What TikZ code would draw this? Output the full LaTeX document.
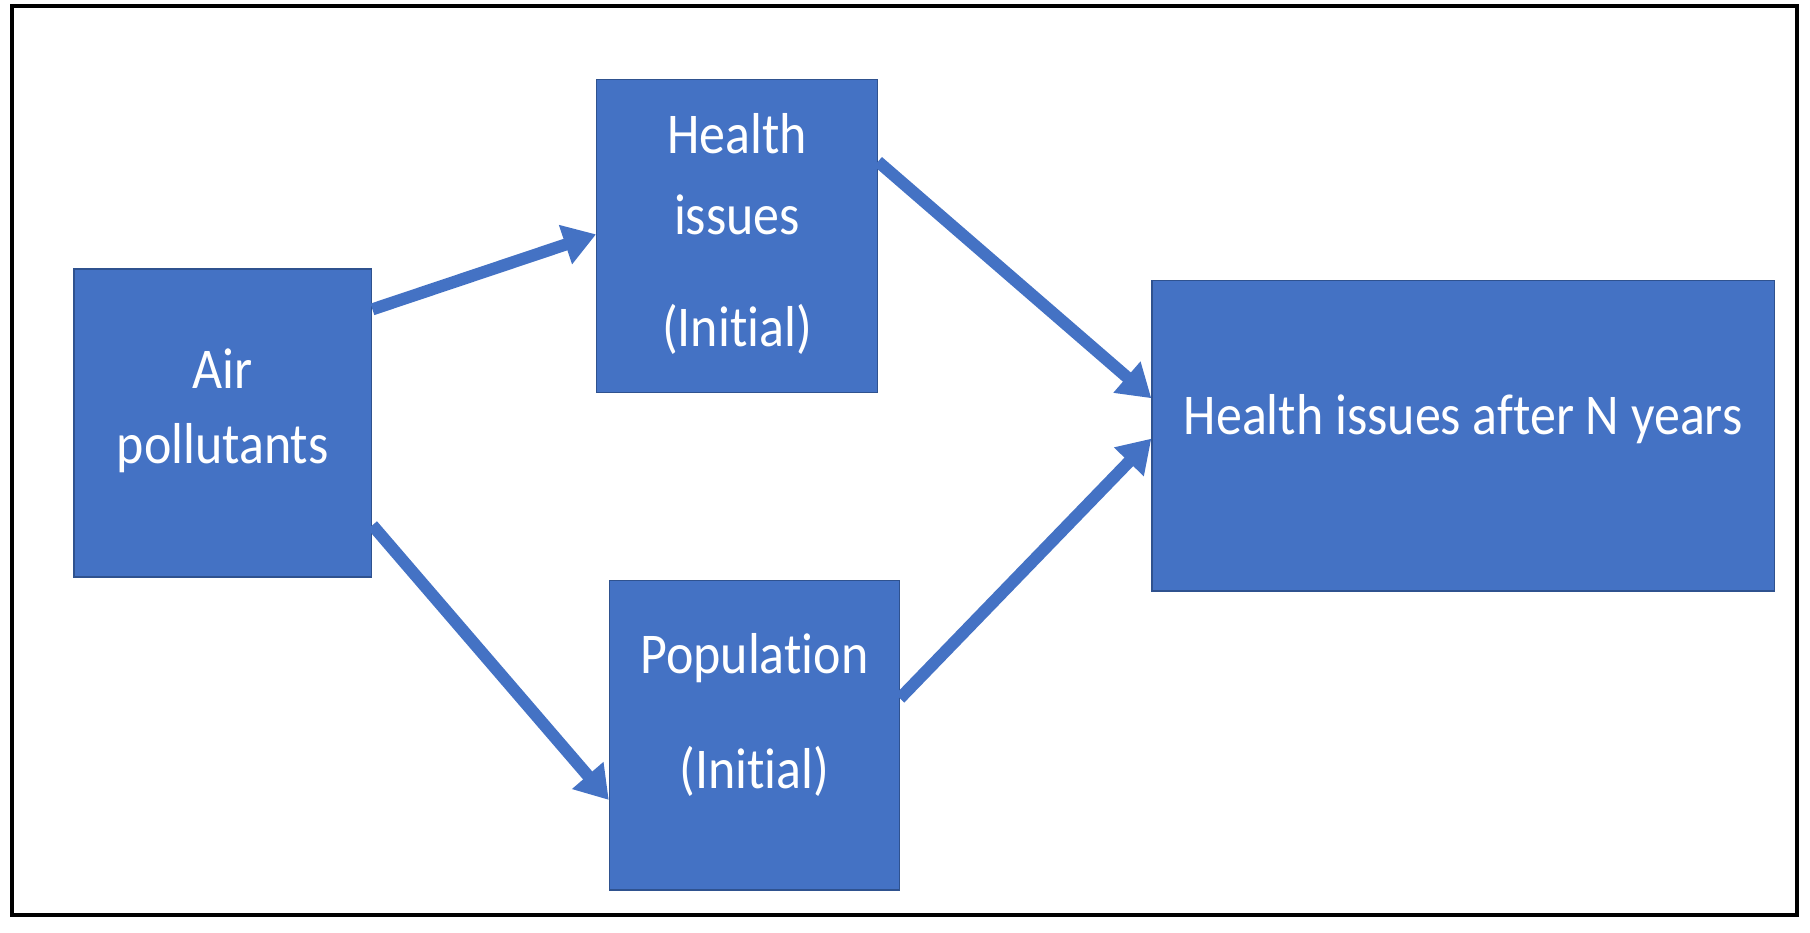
\documentclass[tikz,border=0pt]{standalone}
\usepackage{fontspec}
\setmainfont[Ligatures=NoCommon,FakeStretch=0.9]{Carlito}
\usetikzlibrary{arrows.meta,calc}
\definecolor{boxblue}{HTML}{4472C4}
\definecolor{boxedge}{HTML}{2F528F}
\begin{document}
\begin{tikzpicture}[x=1pt,y=1pt,
  box/.style={draw=boxedge,line width=1.2pt,fill=boxblue,inner sep=0pt},
  txt/.style={text=white,align=center,inner sep=0pt},
  flow/.style={draw=boxblue,line width=10.5pt,-{Triangle[length=28pt,width=34pt]}}]
\useasboundingbox (0,0) rectangle (1568,808);
\draw[line width=3.5pt] (10,15) rectangle (1557,803);
\node[box,minimum width=258pt,minimum height=267pt] (air) at (193,441.5) {};
\node[box,minimum width=243pt,minimum height=271pt] (hi) at (638.5,603.5) {};
\node[box,minimum width=251pt,minimum height=268pt] (pop) at (653.5,171) {};
\node[box,minimum width=539pt,minimum height=269pt] (big) at (1267.5,430.5) {};
\node[txt,font=\fontsize{50}{65}\selectfont] (airt) at ([yshift=11pt]air.center) {Air\\pollutants};
\node[txt,font=\fontsize{50}{70}\selectfont] (hit) at ([yshift=1.5pt]hi.center) {Health\\issues\\[27pt](Initial)};
\node[txt,font=\fontsize{50}{70}\selectfont] (popt) at ([yshift=17.5pt]pop.center) {Population\\[30pt](Initial)};
\node[txt,font=\fontsize{50}{70}\selectfont] (bigt) at ([yshift=14pt]big.center) {Health issues after N years};
\draw[flow] ([yshift=98.5pt]air.east) -- ([yshift=1.5pt]hi.west);
\draw[flow] ([yshift=-88.5pt]air.east) -- ([yshift=-56pt]pop.west);
\draw[flow] ([yshift=64.5pt]hi.east) -- ([yshift=32.5pt]big.west);
\draw[flow] ([yshift=32pt]pop.east) -- ([yshift=-2.5pt]big.west);
\end{tikzpicture}
\end{document}
